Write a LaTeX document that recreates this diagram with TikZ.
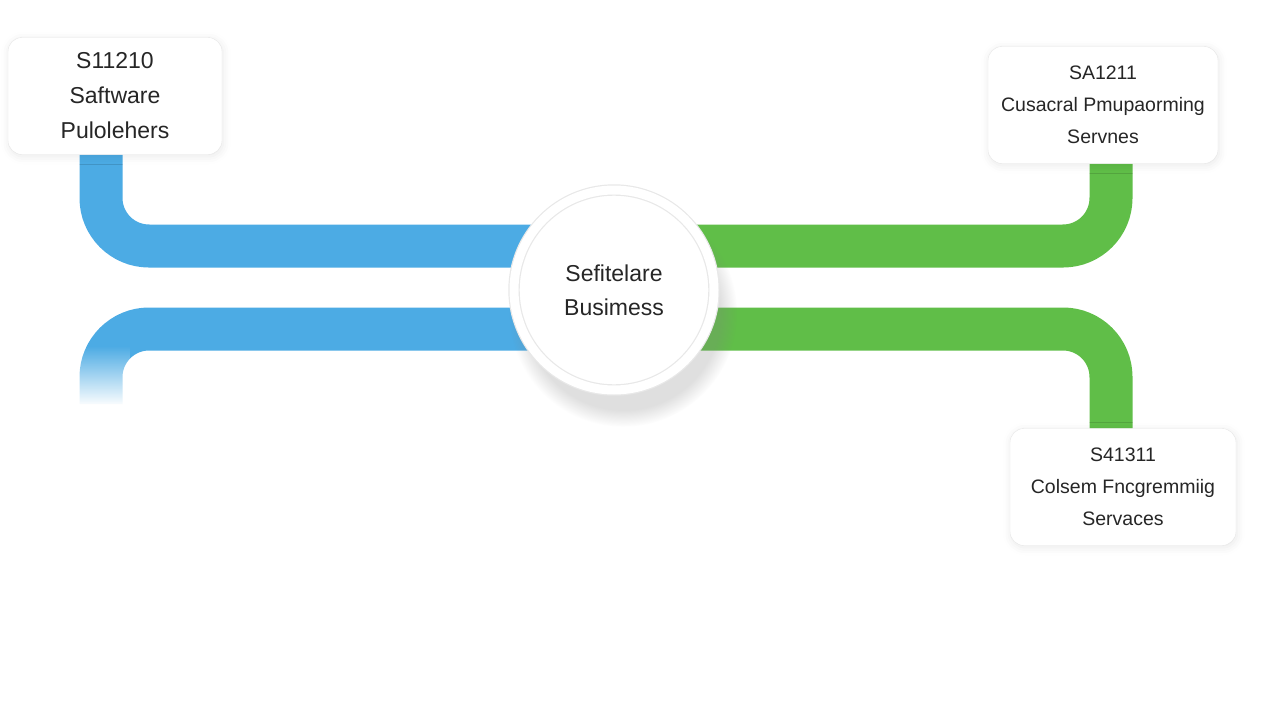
\documentclass[tikz,border=0pt]{standalone}
\usepackage{fontspec}
\setmainfont{Liberation Sans}
\usepackage{tikz}
\usetikzlibrary{positioning,shadows,shadows.blur,fadings,backgrounds}
\definecolor{pipeblue}{RGB}{76,171,228}
\definecolor{pipegreen}{RGB}{96,190,72}
\definecolor{boxline}{RGB}{230,230,230}
\definecolor{txt}{RGB}{38,38,38}
\tikzfading[name=fade down, top color=transparent!100, bottom color=transparent!0]
\tikzset{
  basic/.style    = {draw=boxline, fill=white, align=center, text=txt},
  code box/.style = {basic, rounded corners=14pt, minimum height=117pt,
                     inner sep=4pt,
                     blur shadow={shadow xshift=1pt, shadow yshift=-2pt,
                     shadow blur radius=8pt, shadow opacity=9}},
  left box/.style = {code box, minimum width=214pt,
                     font=\fontsize{23}{35}\selectfont},
  right box/.style = {code box, font=\fontsize{19.5}{32}\selectfont},
  hub/.style      = {basic, circle, draw=gray!18, line width=1.2pt,
                     double=white, double distance=9pt, minimum size=200pt,
                     inner sep=0pt, font=\fontsize{23}{34}\selectfont,
                     circular drop shadow={shadow xshift=8pt,
                     shadow yshift=-20pt, shadow scale=1.14, opacity=.25}},
  pipe/.style     = {line width=43pt, rounded corners=48pt, line cap=butt}
}

\begin{document}
\begin{tikzpicture}[x=1pt,y=-1pt]
\useasboundingbox (0,0) rectangle (1280,720);

% the hub in the middle
\node[hub] (hub) at (614,290) {Sefitelare\\Busimess};

% the code boxes round it
\node[left box] (pub) at (115,96) {S11210\\Saftware\\Pulolehers};
\node[right box, minimum width=230pt] (cust) at (1103,105)
  {SA1211\\Cusacral Pmupaorming\\Servnes};
\node[right box, minimum width=226pt] (prog) at (1123,487)
  {S41311\\Colsem Fncgremmiig\\Servaces};
\coordinate (tail) at (101,404);

% pipes from the boxes into the hub
\begin{pgfonlayer}{background}
\draw[pipe, pipeblue] ([xshift=-14pt]pub.south) |- ([yshift=44pt]hub.center);
\draw[pipe, pipeblue] ([yshift=-39pt]hub.center) -| (tail);
\fill[white, path fading=fade down] (72,346) rectangle (130,406);
\draw[pipe, pipegreen] ([yshift=44pt]hub.center) -| ([xshift=8pt]cust.south);
\draw[pipe, pipegreen] ([yshift=-39pt]hub.center) -| ([xshift=-12pt]prog.north);
\end{pgfonlayer}

\end{tikzpicture}
\end{document}
